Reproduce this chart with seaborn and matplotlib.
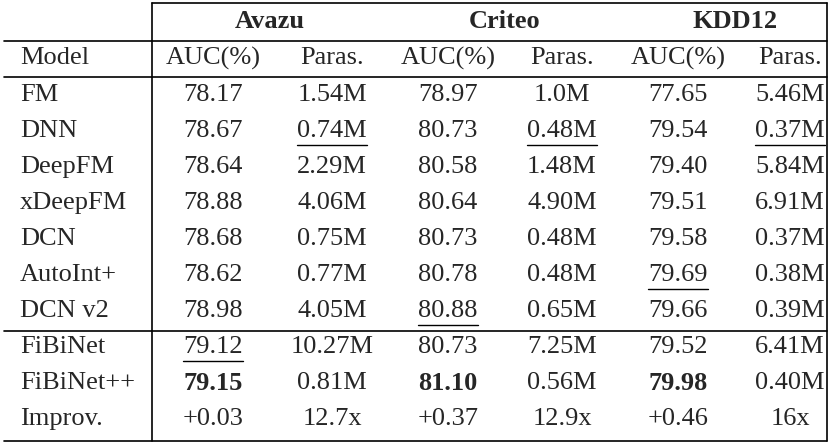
import matplotlib.pyplot as plt
import seaborn as sns

sns.set_theme(style="white")
plt.rcParams['font.family'] = ['Liberation Serif', 'DejaVu Serif']

datasets = ["Avazu", "Criteo", "KDD12"]
models = ["FM", "DNN", "DeepFM", "xDeepFM", "DCN", "AutoInt+", "DCN v2",
          "FiBiNet", "FiBiNet++", "Improv."]
avazu_auc = ["78.17", "78.67", "78.64", "78.88", "78.68", "78.62", "78.98", "79.12", "79.15", "+0.03"]
avazu_par = ["1.54M", "0.74M", "2.29M", "4.06M", "0.75M", "0.77M", "4.05M", "10.27M", "0.81M", "12.7x"]
criteo_auc = ["78.97", "80.73", "80.58", "80.64", "80.73", "80.78", "80.88", "80.73", "81.10", "+0.37"]
criteo_par = ["1.0M", "0.48M", "1.48M", "4.90M", "0.48M", "0.48M", "0.65M", "7.25M", "0.56M", "12.9x"]
kdd_auc = ["77.65", "79.54", "79.40", "79.51", "79.58", "79.69", "79.66", "79.52", "79.98", "+0.46"]
kdd_par = ["5.46M", "0.37M", "5.84M", "6.91M", "0.37M", "0.38M", "0.39M", "6.41M", "0.40M", "16x"]
columns = [avazu_auc, avazu_par, criteo_auc, criteo_par, kdd_auc, kdd_par]
# (column, row) cells that are bold / underlined
bold = {(0, 8), (2, 8), (4, 8)}
underline = {(1, 1), (3, 1), (5, 1), (0, 7), (2, 6), (4, 5)}

fig = plt.figure(figsize=(8.35, 4.43), dpi=100)
ax = fig.add_axes([0, 0, 1, 1])
ax.set_xlim(0, 835)
ax.set_ylim(443, 0)
ax.axis("off")

fs = 19
col_x = [213, 332, 448, 562, 678, 790]
group_x = [270, 505, 735]
row_y = [95 + 36 * i for i in range(len(models))]

kw = dict(color="black", lw=1.2)
ax.plot([152, 827], [3, 3], **kw)
ax.plot([4, 827], [41, 41], **kw)
ax.plot([4, 827], [77, 77], **kw)
ax.plot([4, 827], [331, 331], **kw)
ax.plot([4, 827], [441, 441], **kw)
ax.plot([152, 152], [3, 441], **kw)
ax.plot([827, 827], [3, 441], **kw)

for gx, name in zip(group_x, datasets):
    ax.text(gx, 21, name, fontsize=fs, fontweight="bold", ha="center", va="center")
ax.text(20, 58, "Model", fontsize=fs, ha="left", va="center")
for i, cx in enumerate(col_x):
    ax.text(cx, 58, "AUC(%)" if i % 2 == 0 else "Paras.", fontsize=fs, ha="center", va="center")

fig.canvas.draw()
r = fig.canvas.get_renderer()
for j, (m, y) in enumerate(zip(models, row_y)):
    ax.text(20, y, m, fontsize=fs, ha="left", va="center")
    for i, cx in enumerate(col_x):
        t = ax.text(cx, y, columns[i][j], fontsize=fs, ha="center", va="center",
                    fontweight="bold" if (i, j) in bold else "normal")
        if (i, j) in underline:
            bb = t.get_window_extent(renderer=r)
            w = bb.width
            ax.plot([cx - w / 2, cx + w / 2], [y + 14, y + 14], color="black", lw=1)

fig.savefig("out.png", dpi=100)
